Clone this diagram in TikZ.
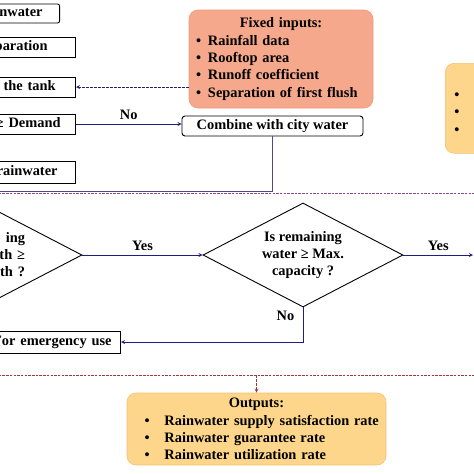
\documentclass[tikz,border=0pt]{standalone}
\usepackage{fontspec}
\setmainfont{Liberation Serif}
\usetikzlibrary{shapes.geometric,arrows.meta}
\definecolor{flownavy}{HTML}{1E1E80}
\definecolor{citypurple}{HTML}{54458F}
\definecolor{seppurple}{HTML}{8E4A86}
\definecolor{sepred}{HTML}{A0363F}
\definecolor{inputfill}{HTML}{F5A88B}
\definecolor{inputline}{HTML}{EE9A7C}
\definecolor{outfill}{HTML}{FDD68C}
\definecolor{outline}{HTML}{F3C270}
\begin{document}
\begin{tikzpicture}[x=1pt,y=-1pt,font=\bfseries\fontsize{14.4}{17}\selectfont]
    % Styles
    \tikzstyle{process} = [rectangle, draw=black, line width=0.9pt, inner ysep=0pt, text height=10pt, text depth=3.5pt]
    \tikzstyle{cut} = [process, anchor=east, text width=140pt, align=right]
    \tikzstyle{decision} = [diamond, draw=black, line width=0.9pt, aspect=1.92, minimum width=200pt, minimum height=104pt, inner sep=0pt, align=center]
    \tikzstyle{infobox} = [rectangle, rounded corners=9pt, line width=0.6pt, font=\bfseries\fontsize{14.4}{17.3}\selectfont, align=left]
    \tikzstyle{arrow} = [draw=flownavy, line width=0.8pt, ->, >=stealth]
    \tikzstyle{dasharrow} = [arrow, dashed, dash pattern=on 2.5pt off 1.5pt]
    \tikzstyle{sep} = [line width=1pt, dash pattern=on 2.5pt off 1.2pt]

    \useasboundingbox (0,0) rectangle (474,474);
    \clip (0,0) rectangle (474,474);

    % Boites de gauche
    \node (rain) [cut, rounded corners=2pt, inner xsep=17pt, minimum height=19pt] at (60,13.5) {nwater};
    \node (flush) [cut, inner xsep=28pt, minimum height=20pt] at (76,47) {paration};
    \node (tank) [cut, inner xsep=20pt, minimum height=20pt] at (76,87) {the tank};
    \node (demand) [cut, inner xsep=15pt, minimum height=20pt] at (76,124) {≥ Demand};
    \node (use) [cut, inner xsep=18pt, minimum height=22pt] at (76,172) {rainwater};

    % Entrees
    \node (inputs) [infobox, fill=inputfill, draw=inputline, text width=170pt, minimum width=184pt, minimum height=98pt] at (281,59)
        {\makebox[\linewidth]{Fixed inputs:}\\
         \makebox[12pt][l]{•}Rainfall data\\
         \makebox[12pt][l]{•}Rooftop area\\
         \makebox[12pt][l]{•}Runoff coefficient\\
         \makebox[12pt][l]{•}Separation of first flush};
    \node (varinputs) [infobox, fill=outfill, draw=outline, anchor=north west, text width=50pt, inner xsep=9pt, minimum height=90pt] at (445,63)
        {\mbox{}\\ •\\ •\\ •};

    \node (combine) [process, rounded corners=3pt, minimum width=181pt, minimum height=20pt] at (272.5,126) {Combine with city water};

    % Fleches du haut
    \draw [dasharrow] (inputs.west |- tank) -- (tank.east);
    \draw [arrow] (demand.east) -- node[above=1pt] {No} (demand.east -| combine.west);
    \coordinate (cityend) at (-5,191);
    \draw [draw=citypurple, line width=0.8pt] (combine.south) |- (cityend);
    \draw [sep, draw=seppurple] (-5,193.5) -- (480,193.5);

    % Decisions
    \node (depth) [decision, text width=86pt, align=right] at (-18,255) {ing\\th ≥\\th ?};
    \node (capacity) [decision] at (303,255) {Is remaining\\water ≥ Max.\\capacity ?};
    \node (emergency) [cut, anchor=east, inner xsep=9pt, minimum height=22pt] at (121,342) {For emergency use};
    \coordinate (overflow) at (473,255);

    \draw [arrow] (depth.east) -- node[above=1pt] {Yes} (capacity.west);
    \draw [arrow] (capacity.east) -- node[above=1pt] {Yes} (overflow);
    \draw [arrow] (capacity.south) |- node[pos=0.12, left=5pt] {No} (emergency.east);

    % Sorties
    \draw [sep, draw=sepred] (-5,375) -- (480,375);
    \coordinate (split) at (256.5,375);
    \node (outputs) [infobox, fill=outfill, draw=outline, text width=250pt, minimum width=259pt, minimum height=72pt] at (256.5,429)
        {\makebox[\linewidth]{Outputs:}\\
         \hspace*{13pt}\makebox[20pt][l]{•}Rainwater supply satisfaction rate\\
         \hspace*{13pt}\makebox[20pt][l]{•}Rainwater guarantee rate\\
         \hspace*{13pt}\makebox[20pt][l]{•}Rainwater utilization rate};
    \draw [dasharrow, draw=sepred] (split) -- (outputs.north);

\end{tikzpicture}
\end{document}
